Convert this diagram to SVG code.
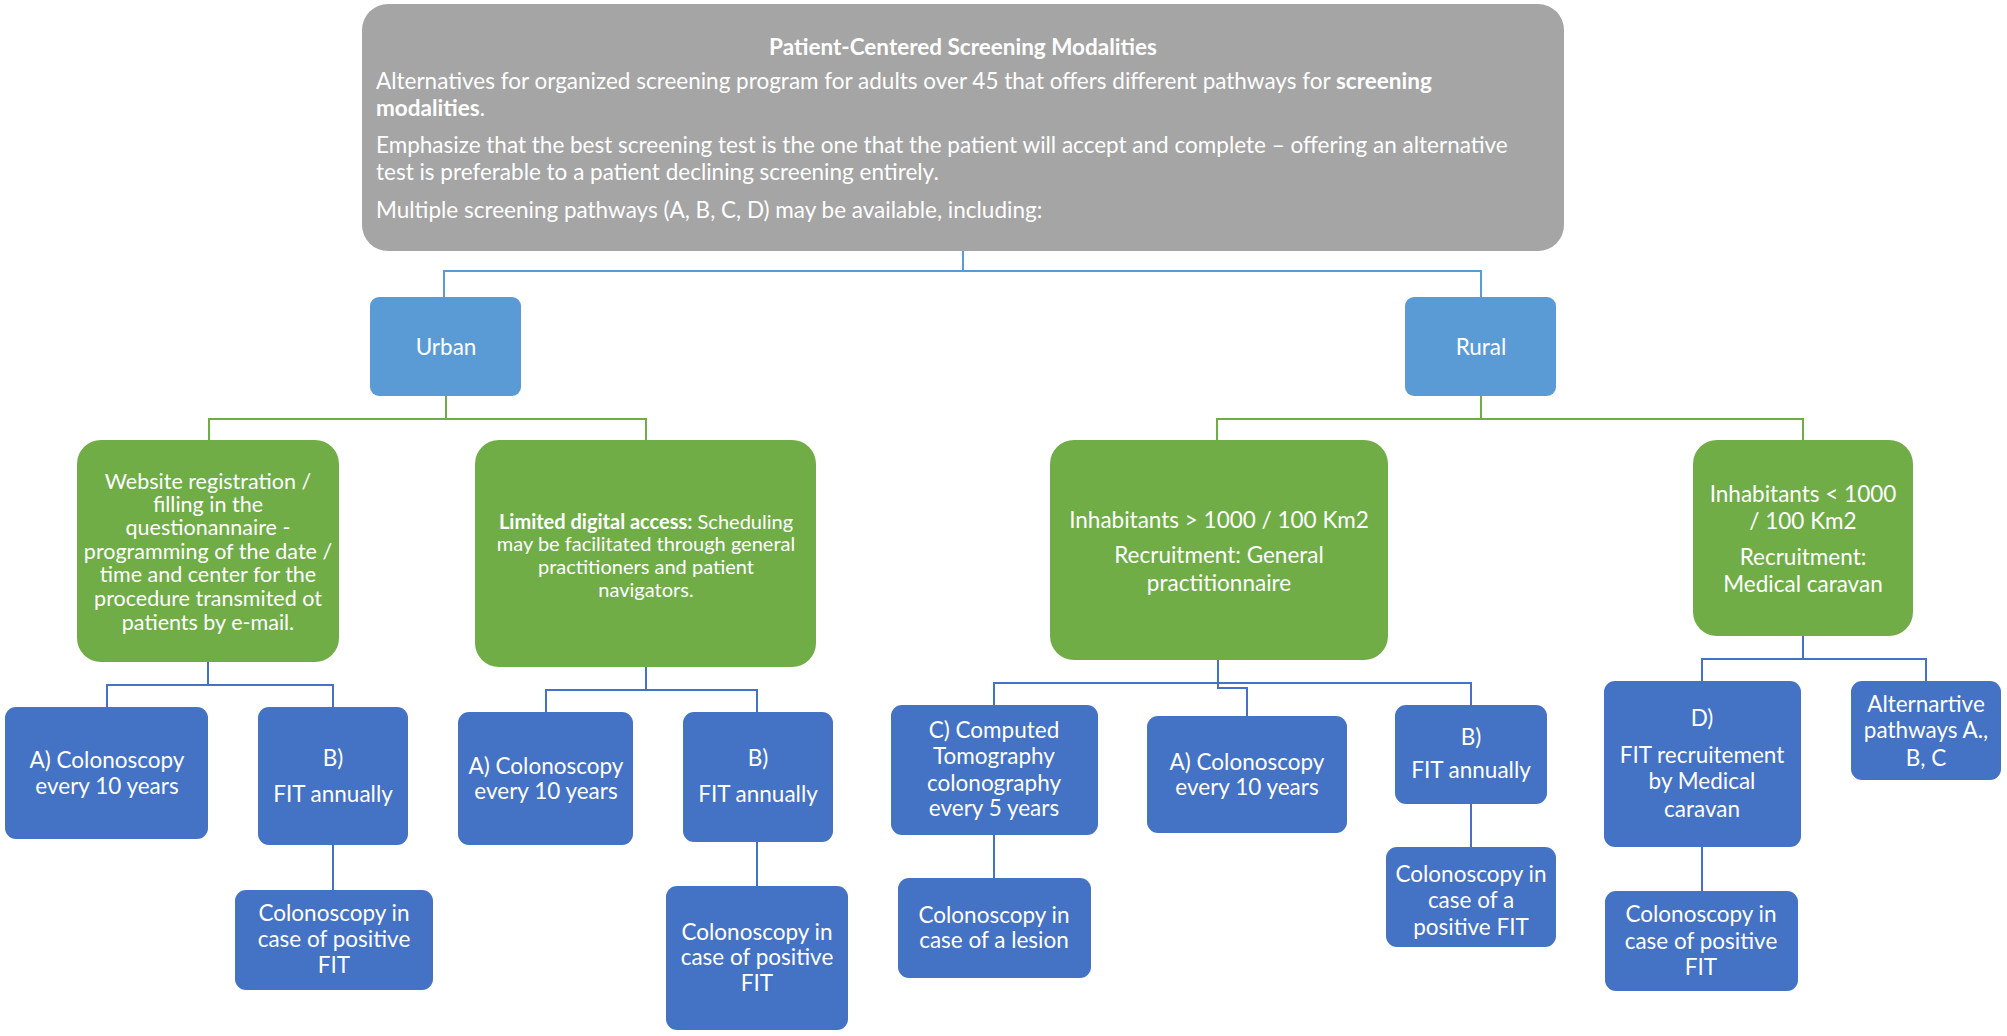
<svg xmlns="http://www.w3.org/2000/svg" width="2007" height="1036" viewBox="0 0 2007 1036">
<style>
text{font-family:Lato,"Liberation Sans",Arial,sans-serif;fill:#ffffff}
.top{font-size:22.5px}
.ttl{font-size:22.5px;font-weight:bold}
.g{font-size:20px;text-anchor:middle}
.g1{font-size:21.5px;text-anchor:middle}
.b{font-size:22.5px;text-anchor:middle}
.gray{fill:#a5a5a5}
.lb{fill:#5b9bd5}
.gr{fill:#70ad47}
.bl{fill:#4472c4}
.c1{fill:none;stroke:#5b9bd5;stroke-width:2}
.c2{fill:none;stroke:#70ad47;stroke-width:2}
.c3{fill:none;stroke:#4472c4;stroke-width:2}
</style>
<rect width="2007" height="1036" fill="#ffffff"/>
<g id="connectors">
<path class="c1" d="M963 251V271M444 297V271H1481V297"/>
<path class="c2" d="M446 396V419M209 440V419H646V440M1481 396V419M1217 440V419H1803V440"/>
<path class="c3" d="M208 662V685M107 707V685H333V707M333 845V890"/>
<path class="c3" d="M646 667V690M546 712V690H757V712M757 842V886"/>
<path class="c3" d="M1218 660V683M994 705V683H1471V705M1218 683V688H1247V716M994 835V878M1471 804V847"/>
<path class="c3" d="M1803 636V659M1702 681V659H1926V681M1702 847V891"/>
</g>
<g id="top">
<rect class="gray" x="362" y="4" width="1202" height="247" rx="26"/>
<text class="ttl" x="963" y="55" text-anchor="middle">Patient-Centered Screening Modalities</text>
<text class="top" x="376" y="89">Alternatives for organized screening program for adults over 45 that offers different pathways for <tspan font-weight="bold">screening</tspan></text>
<text class="top" x="376" y="116"><tspan font-weight="bold">modalities</tspan>.</text>
<text class="top" x="376" y="153">Emphasize that the best screening test is the one that the patient will accept and complete – offering an alternative</text>
<text class="top" x="376" y="180">test is preferable to a patient declining screening entirely.</text>
<text class="top" x="376" y="218">Multiple screening pathways (A, B, C, D) may be available, including:</text>
</g>
<g id="urban">
<rect class="lb" x="370" y="297" width="151" height="99" rx="9"/>
<text class="b" x="446" y="355">Urban</text>
</g>
<g id="rural">
<rect class="lb" x="1405" y="297" width="151" height="99" rx="9"/>
<text class="b" x="1481" y="355">Rural</text>
</g>
<g id="website">
<rect class="gr" x="77" y="440" width="262" height="222" rx="24"/>
<text class="g1" x="208" y="489">Website registration /</text>
<text class="g1" x="208" y="512">filling in the</text>
<text class="g1" x="208" y="535">questionannaire -</text>
<text class="g1" x="208" y="559">programming of the date /</text>
<text class="g1" x="208" y="582">time and center for the</text>
<text class="g1" x="208" y="606">procedure transmited ot</text>
<text class="g1" x="208" y="630">patients by e-mail.</text>
</g>
<g id="limited">
<rect class="gr" x="475" y="440" width="341" height="227" rx="24"/>
<text class="g" x="646" y="529"><tspan font-weight="bold">Limited digital access:</tspan> Scheduling</text>
<text class="g" x="646" y="551">may be facilitated through general</text>
<text class="g" x="646" y="574">practitioners and patient</text>
<text class="g" x="646" y="597">navigators.</text>
</g>
<g id="dense">
<rect class="gr" x="1050" y="440" width="338" height="220" rx="24"/>
<text class="b" x="1219" y="528">Inhabitants &gt; 1000 / 100 Km2</text>
<text class="b" x="1219" y="563">Recruitment: General</text>
<text class="b" x="1219" y="591">practitionnaire</text>
</g>
<g id="sparse">
<rect class="gr" x="1693" y="440" width="220" height="196" rx="24"/>
<text class="b" x="1803" y="502">Inhabitants &lt; 1000</text>
<text class="b" x="1803" y="529">/ 100 Km2</text>
<text class="b" x="1803" y="565">Recruitment:</text>
<text class="b" x="1803" y="592">Medical caravan</text>
</g>
<g id="a1">
<rect class="bl" x="5" y="707" width="203" height="132" rx="11"/>
<text class="b" x="107" y="768">A) Colonoscopy</text>
<text class="b" x="107" y="794">every 10 years</text>
</g>
<g id="b1">
<rect class="bl" x="258" y="707" width="150" height="138" rx="11"/>
<text class="b" x="333" y="766">B)</text>
<text class="b" x="333" y="802">FIT annually</text>
</g>
<g id="c1">
<rect class="bl" x="235" y="890" width="198" height="100" rx="11"/>
<text class="b" x="334" y="921">Colonoscopy in</text>
<text class="b" x="334" y="947">case of positive</text>
<text class="b" x="334" y="973">FIT</text>
</g>
<g id="a2">
<rect class="bl" x="458" y="712" width="175" height="133" rx="11"/>
<text class="b" x="546" y="774">A) Colonoscopy</text>
<text class="b" x="546" y="799">every 10 years</text>
</g>
<g id="b2">
<rect class="bl" x="683" y="712" width="150" height="130" rx="11"/>
<text class="b" x="758" y="766">B)</text>
<text class="b" x="758" y="802">FIT annually</text>
</g>
<g id="c2">
<rect class="bl" x="666" y="886" width="182" height="144" rx="11"/>
<text class="b" x="757" y="940">Colonoscopy in</text>
<text class="b" x="757" y="965">case of positive</text>
<text class="b" x="757" y="991">FIT</text>
</g>
<g id="c3">
<rect class="bl" x="891" y="705" width="207" height="130" rx="11"/>
<text class="b" x="994" y="738">C) Computed</text>
<text class="b" x="994" y="764">Tomography</text>
<text class="b" x="994" y="791">colonography</text>
<text class="b" x="994" y="816">every 5 years</text>
</g>
<g id="lesion">
<rect class="bl" x="898" y="878" width="193" height="100" rx="11"/>
<text class="b" x="994" y="923">Colonoscopy in</text>
<text class="b" x="994" y="948">case of a lesion</text>
</g>
<g id="a3">
<rect class="bl" x="1147" y="716" width="200" height="117" rx="11"/>
<text class="b" x="1247" y="770">A) Colonoscopy</text>
<text class="b" x="1247" y="795">every 10 years</text>
</g>
<g id="b3">
<rect class="bl" x="1395" y="705" width="152" height="99" rx="11"/>
<text class="b" x="1471" y="745">B)</text>
<text class="b" x="1471" y="778">FIT annually</text>
</g>
<g id="cb3">
<rect class="bl" x="1386" y="847" width="170" height="100" rx="11"/>
<text class="b" x="1471" y="882">Colonoscopy in</text>
<text class="b" x="1471" y="908">case of a</text>
<text class="b" x="1471" y="935">positive FIT</text>
</g>
<g id="d">
<rect class="bl" x="1604" y="681" width="197" height="166" rx="11"/>
<text class="b" x="1702" y="726">D)</text>
<text class="b" x="1702" y="763">FIT recruitement</text>
<text class="b" x="1702" y="789">by Medical</text>
<text class="b" x="1702" y="817">caravan</text>
</g>
<g id="alt">
<rect class="bl" x="1851" y="681" width="150" height="99" rx="11"/>
<text class="b" x="1926" y="712">Alternartive</text>
<text class="b" x="1926" y="738">pathways A.,</text>
<text class="b" x="1926" y="766">B, C</text>
</g>
<g id="cd">
<rect class="bl" x="1605" y="891" width="193" height="100" rx="11"/>
<text class="b" x="1701" y="922">Colonoscopy in</text>
<text class="b" x="1701" y="949">case of positive</text>
<text class="b" x="1701" y="975">FIT</text>
</g>
</svg>
